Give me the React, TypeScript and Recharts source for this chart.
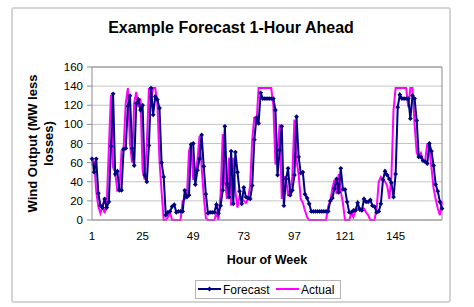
import { LineChart, Line, XAxis, YAxis, CartesianGrid, ReferenceLine } from 'recharts';

const FONT = '"Liberation Sans", Arial, sans-serif';

// Hourly wind output for one week (MW less losses)
const forecast = [
  64, 50, 64, 28, 15, 13, 22, 13, 19, 77,
  132, 48, 51, 31, 31, 74, 75, 119, 130, 75,
  57, 122, 126, 115, 120, 47, 40, 78, 138, 110,
  129, 126, 117, 60, 45, 5, 8, 9, 14, 16,
  8, 9, 9, 9, 31, 24, 26, 79, 80, 37,
  52, 64, 89, 56, 27, 7, 8, 8, 8, 16,
  7, 15, 31, 98, 38, 24, 72, 17, 71, 50,
  30, 17, 34, 24, 23, 22, 36, 84, 107, 101,
  133, 127, 127, 127, 127, 127, 127, 115, 47, 73,
  98, 15, 43, 54, 26, 31, 47, 108, 66, 49,
  50, 27, 23, 17, 9, 9, 9, 9, 9, 9,
  9, 9, 9, 20, 23, 33, 43, 29, 54, 32,
  32, 19, 8, 8, 10, 10, 18, 11, 10, 22,
  19, 19, 21, 15, 14, 8, 9, 17, 42, 51,
  47, 43, 39, 24, 48, 118, 131, 127, 127, 127,
  127, 106, 130, 127, 104, 66, 66, 62, 61, 59,
  80, 72, 57, 37, 30, 19, 12,
];

const actual = [
  57, 62, 30, 14, 7, 15, 7, 18, 76, 131,
  55, 50, 31, 33, 72, 76, 122, 138, 80, 60,
  122, 134, 118, 127, 52, 42, 80, 138, 125, 138,
  138, 122, 62, 30, 0, 0, 3, 8, 0, 0,
  0, 0, 0, 20, 22, 24, 72, 80, 42, 50,
  62, 88, 55, 25, 2, 0, 0, 0, 0, 7,
  0, 28, 90, 40, 22, 65, 15, 65, 30, 13,
  25, 22, 20, 18, 22, 36, 84, 108, 100, 138,
  138, 138, 138, 138, 138, 138, 120, 58, 72, 100,
  22, 45, 45, 25, 32, 45, 105, 62, 48, 22,
  18, 10, 3, 0, 0, 0, 0, 0, 0, 0,
  0, 0, 14, 20, 33, 42, 27, 48, 30, 18,
  0, 0, 0, 7, 3, 12, 12, 12, 12, 12,
  8, 5, 0, 0, 0, 12, 40, 45, 42, 40,
  36, 22, 45, 115, 138, 138, 138, 138, 138, 138,
  118, 138, 138, 100, 70, 66, 70, 62, 62, 80,
  74, 55, 33, 22, 12, 5, 19,
];

const hourTicks = [1, 25, 49, 73, 97, 121, 145];
const outputTicks = [0, 20, 40, 60, 80, 100, 120, 140, 160];

const data = forecast.map((f, i) => ({ hour: i + 1, forecast: f, actual: actual[i] }));
const lastHour = data.length;

const NAVY = '#000080';
const MAGENTA = '#ff00ff';
const FRAME = '#8c8c8c';

const Diamond = ({ cx, cy, size = 2.4 }: { cx?: number; cy?: number; size?: number }) => {
  if (cx == null || cy == null) return null;
  return (
    <path
      d={`M${cx},${cy - size}L${cx + size},${cy}L${cx},${cy + size}L${cx - size},${cy}Z`}
      fill={NAVY}
    />
  );
};

const tickStyle = { fontSize: 11.5, fill: '#000', fontFamily: FONT };

export default function App() {
  return (
    <div style={{ position: 'absolute', left: 0, top: 0, width: 474, height: 307, background: '#fff', fontFamily: FONT }}>
      {/* chart area frame */}
      <div
        style={{
          position: 'absolute', left: 11, top: 7, width: 440, height: 296,
          border: '2px solid #d4d4d4', borderRadius: 3, boxSizing: 'border-box',
        }}
      />
      <div style={{ position: 'absolute', left: 0, top: 0 }}>
        <LineChart width={474} height={307} data={data} margin={{ top: 67, right: 32, bottom: 57, left: 0 }}>
          <CartesianGrid vertical={false} stroke="#c4c4c4" />
          <XAxis
            type="number"
            dataKey="hour"
            domain={[1, lastHour]}
            ticks={hourTicks}
            interval={0}
            height={30}
            tickLine={false}
            tickSize={0}
            tickMargin={12}
            axisLine={{ stroke: FRAME }}
            tick={tickStyle}
          />
          <YAxis
            domain={[0, 160]}
            ticks={outputTicks}
            interval={0}
            width={92}
            tickSize={5}
            tickMargin={4}
            axisLine={{ stroke: FRAME }}
            tickLine={{ stroke: FRAME }}
            tick={tickStyle}
          />
          <ReferenceLine y={160} stroke={FRAME} />
          <ReferenceLine x={lastHour} stroke={FRAME} />
          <Line type="linear" dataKey="actual" stroke={MAGENTA} strokeWidth={2} dot={false} isAnimationActive={false} />
          <Line
            type="linear"
            dataKey="forecast"
            stroke={NAVY}
            strokeWidth={2}
            dot={(p: any) => <Diamond key={`d-${p.index}`} cx={p.cx} cy={p.cy} />}
            isAnimationActive={false}
          />
        </LineChart>
      </div>
      <svg width={474} height={307} style={{ position: 'absolute', left: 0, top: 0, pointerEvents: 'none' }} fontFamily={FONT}>
        <text x={231} y={33} textAnchor="middle" fontSize={16} fontWeight="bold">
          Example Forecast 1-Hour Ahead
        </text>
        <text transform="translate(36.5,143.5) rotate(-90)" textAnchor="middle" fontSize={13} fontWeight="bold">
          <tspan x={0} y={0}>Wind Output (MW less</tspan>
          <tspan x={0} y={16}>losses)</tspan>
        </text>
        <text x={267} y={264} textAnchor="middle" fontSize={12.5} fontWeight="bold">
          Hour of Week
        </text>
        {/* legend */}
        <rect x={195.5} y={280.5} width={145} height={18} fill="#fff" stroke="#b4b4b4" />
        <line x1={198} x2={221} y1={289} y2={289} stroke={NAVY} strokeWidth={2} />
        <Diamond cx={209.5} cy={289} />
        <text x={223} y={293.5} fontSize={12}>Forecast</text>
        <line x1={276} x2={299} y1={289} y2={289} stroke={MAGENTA} strokeWidth={2} />
        <text x={301} y={293.5} fontSize={12}>Actual</text>
      </svg>
    </div>
  );
}
